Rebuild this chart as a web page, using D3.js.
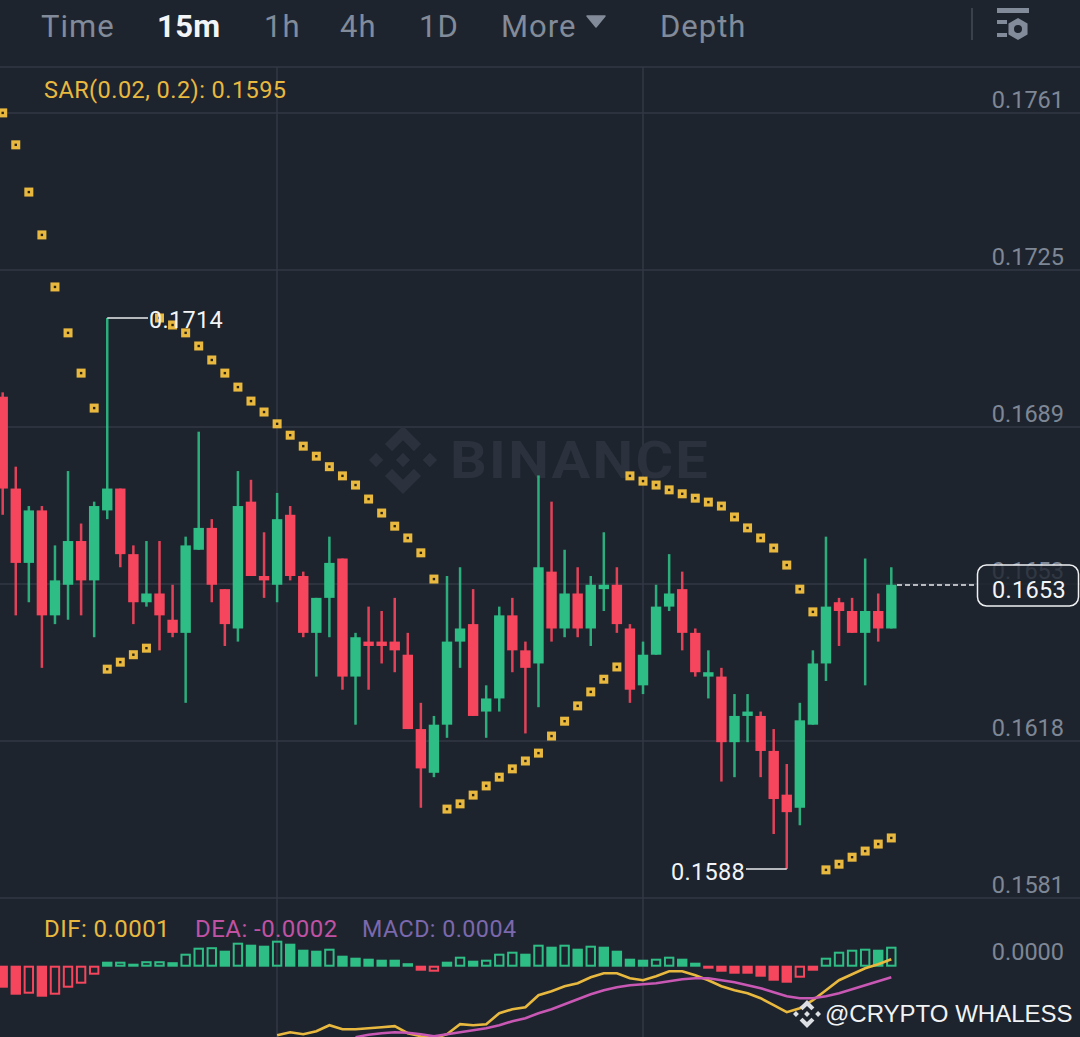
<!DOCTYPE html>
<html>
<head>
<meta charset="utf-8">
<script src="https://cdn.jsdelivr.net/npm/d3@7/dist/d3.min.js"></script>
<style>
  html, body { margin: 0; padding: 0; background: #1e242e; overflow: hidden; }
  svg { display: block; }
  text { font-family: Roboto, sans-serif; }
</style>
</head>
<body>
<div class="chart"></div>
<script>
// prices below are in units of 0.0001
const opens = [1696,1675,1658,1670,1646,1653,1663,1654,1670,1675,1660,1649,1651,1645,1642,1661,1666,1652,1643,1672,1655,1653,1669,1655,1642,1650,1659,1632,1640,1640,1640,1637,1620,1610,1621,1640,1644,1624,1627,1646,1638,1635,1656,1643,1651,1643,1652,1653,1643,1630,1637,1648,1652,1642,1632,1632,1617,1623,1623,1615,1605,1602,1621,1635,1649,1647,1642,1647,1643];
const closes = [1675,1658,1670,1646,1654,1663,1654,1671,1675,1660,1649,1651,1646,1642,1662,1666,1653,1644,1671,1655,1654,1668,1655,1642,1650,1658,1632,1641,1639,1639,1638,1620,1611,1621,1640,1643,1623,1627,1646,1638,1634,1657,1643,1651,1643,1653,1653,1644,1629,1637,1648,1651,1642,1633,1633,1617,1623,1624,1615,1604,1601,1622,1635,1648,1647,1642,1647,1643,1653];
const highs = [1697,1680,1671,1671,1662,1679,1667,1672,1714,1675,1662,1663,1663,1653,1664,1688,1668,1652,1679,1677,1665,1674,1671,1656,1650,1664,1659,1642,1648,1647,1650,1642,1626,1623,1655,1657,1652,1630,1648,1650,1640,1678,1672,1661,1657,1655,1665,1657,1644,1640,1653,1660,1656,1643,1638,1634,1628,1628,1624,1620,1612,1626,1638,1664,1650,1650,1659,1651,1657];
const lows = [1669,1646,1649,1634,1644,1645,1646,1641,1668,1657,1644,1648,1638,1641,1626,1661,1649,1639,1640,1655,1650,1649,1654,1641,1632,1641,1629,1621,1629,1635,1633,1620,1602,1609,1618,1634,1623,1618,1624,1633,1619,1625,1640,1641,1641,1639,1647,1642,1626,1628,1637,1647,1638,1632,1627,1608,1609,1617,1609,1596,1588,1598,1621,1631,1639,1642,1630,1640,1643];

const sar = [1760.9,1753.6,1742.8,1733,1721.1,1710.6,1701.4,1693.4,1633.7,1635.3,1637,1638.5,1714,1712.4,1710.6,1707.6,1704.4,1701.4,1698.2,1695,1692.5,1689.8,1687.2,1684.7,1682.4,1680,1677.9,1675.8,1672.6,1669.4,1666.4,1663.7,1660.3,1654.3,1601.7,1602.9,1604.9,1607,1609,1610.9,1612.7,1614.5,1618.4,1621.8,1625.3,1628.5,1631.4,1634.2,1677.9,1676.7,1675.8,1674.7,1673.8,1672.8,1671.9,1671,1668.5,1666,1663.7,1661.4,1657.5,1652,1646.8,1587.8,1589.1,1590.7,1592.1,1593.7,1595.1];

const priceTicks = [1761,1725.1,1689.2,1653.3,1617.4,1581.5];
const priceLabels = ["0.1761","0.1725","0.1689","0.1653","0.1618","0.1581"];

// macd values in units of 0.00001
const macd = [-42,-56,-54,-60,-56,-42,-34,-16,10,10,6,11,11,9,26,38,39,32,48,44,42,52,46,34,32,36,22,18,16,14,14,7,-8,-10,10,20,12,14,26,30,26,44,40,44,36,42,40,32,16,14,16,20,16,8,-4,-10,-14,-14,-20,-28,-32,-22,-8,18,30,34,36,34,40];
const macdHollow = [2,4,5,6,7,9,11,12,14,15,16,18,21,25,33,35,37,38,39,41,43,45,50,51,61,63,64,65,66,68];
const difStart = 21;
const dif = [-137,-131,-135,-129,-117,-125,-125,-123,-121,-119,-133,-139,-143,-135,-115,-117,-115,-93,-85,-81,-57,-49,-39,-33,-21,-13,-13,-23,-27,-19,-9,-9,-17,-27,-39,-47,-53,-63,-77,-91,-83,-67,-47,-27,-15,-3,5,15];
const deaStart = 27;
const dea = [-141,-136,-133,-131,-132,-135,-139,-135,-131,-127,-123,-117,-109,-103,-93,-85,-75,-65,-55,-47,-41,-37,-35,-33,-29,-25,-23,-23,-27,-31,-37,-43,-51,-59,-63,-63,-59,-53,-45,-37,-29,-21];

const tabs = ["Time","15m","1h","4h","1D","More","Depth"];
const tabX = [41,157,264,340,419,501,660];

const width = 1080, height = 1037;
const green = "#2ebd85", red = "#f6465d", yellow = "#e9b93f", bg = "#1e242e";
const gridColor = "#323945", mutedText = "#828b99", axisText = "#7e8795";

const svg = d3.select(".chart").append("svg")
    .attr("width", width)
    .attr("height", height)
    .style("background", bg);

const x = d3.scaleLinear().domain([0, 68]).range([2.7, 891.3]);
const y = d3.scaleLinear().domain([1714, 1588]).range([318, 869]);
const yMacd = d3.scaleLinear().domain([0, 40]).range([966.7, 946.7]);

// grid
svg.append("line").attr("x1", 0).attr("x2", width).attr("y1", 67).attr("y2", 67)
    .attr("stroke", gridColor).attr("stroke-width", 1.5);
svg.selectAll("line.v").data([277, 643]).enter().append("line")
    .attr("class", "v")
    .attr("x1", d => d).attr("x2", d => d)
    .attr("y1", 67).attr("y2", height)
    .attr("stroke", gridColor).attr("stroke-width", 1.5);

const priceAxis = svg.append("g")
    .attr("transform", `translate(${width},0)`)
    .call(d3.axisLeft(y).tickValues(priceTicks).tickSize(width)
        .tickFormat((d, i) => priceLabels[i]));
priceAxis.select(".domain").remove();
priceAxis.selectAll("line").attr("stroke", gridColor).attr("stroke-width", 1.5);
priceAxis.selectAll("text")
    .attr("x", -16).attr("dy", -5)
    .attr("text-anchor", "end")
    .attr("fill", axisText)
    .style("font-size", "23.5px")
    .style("font-family", "Roboto, sans-serif");

// binance logo, unit radius
function logo(g, cx, cy, r, color) {
    const c = [[0,-1],[0.53,-0.47],[0.32,-0.26],[0,-0.58],[-0.32,-0.26],[-0.53,-0.47]];
    const diamond = (dx) => [[dx,-0.21],[dx+0.21,0],[dx,0.21],[dx-0.21,0]];
    const shapes = [c, c.map(p => [p[0], -p[1]]), diamond(0), diamond(-0.79), diamond(0.79)];
    g.selectAll(null).data(shapes).enter().append("polygon")
        .attr("points", d => d.map(p => [cx + p[0] * r, cy + p[1] * r].join(",")).join(" "))
        .attr("fill", color);
}

// watermark
logo(svg.append("g"), 403, 460, 34, "#2c323d");
svg.append("text").attr("x", 450).attr("y", 478)
    .attr("fill", "#2c323d")
    .attr("textLength", 260).attr("lengthAdjust", "spacingAndGlyphs")
    .style("font-size", "51px").style("font-weight", 700).style("letter-spacing", "2px")
    .text("BINANCE");

// header
svg.selectAll("text.tab").data(tabs).enter().append("text")
    .attr("class", "tab")
    .attr("x", (d, i) => tabX[i])
    .attr("y", 37)
    .attr("fill", d => d === "15m" ? "#f2f4f7" : mutedText)
    .style("font-size", "31px")
    .style("font-weight", d => d === "15m" ? 700 : 400)
    .style("letter-spacing", d => d === "15m" ? "0.4px" : "1px")
    .text(d => d);
svg.append("path").attr("d", "M587,16L605,16L596,27Z").attr("fill", mutedText)
    .attr("stroke", mutedText).attr("stroke-width", 1.5).attr("stroke-linejoin", "round");
svg.append("rect").attr("x", 971).attr("y", 8).attr("width", 2).attr("height", 32).attr("fill", "#3a414c");

const icon = svg.append("g").attr("fill", mutedText);
icon.append("rect").attr("x", 997).attr("y", 8).attr("width", 32).attr("height", 5);
icon.append("rect").attr("x", 997).attr("y", 20).attr("width", 10).attr("height", 4);
icon.append("rect").attr("x", 997).attr("y", 33).attr("width", 10).attr("height", 4);
icon.append("path").attr("fill-rule", "evenodd")
    .attr("d", d3.range(6).map(i => {
        const a = Math.PI / 3 * i - Math.PI / 2;
        return (i ? "L" : "M") + (1018 + 11 * Math.cos(a)) + "," + (29 + 11 * Math.sin(a));
    }).join("") + "Z M1022,29a4,4 0 1,0 -8,0a4,4 0 1,0 8,0Z");

// legends
function legend(px, py, color, str, size) {
    svg.append("text").attr("x", px).attr("y", py).attr("fill", color)
        .style("font-size", size + "px").style("letter-spacing", "0.45px").text(str);
}
legend(44, 98, yellow, "SAR(0.02, 0.2): 0.1595", 23.5);
legend(44, 937, yellow, "DIF: 0.0001", 24);
legend(195, 937, "#c052a4", "DEA: -0.0002", 24);
legend(362, 937, "#7b68ad", "MACD: 0.0004", 23.3);

// candles
const candles = opens.map((o, i) => ({ i, o, c: closes[i], h: highs[i], l: lows[i], up: closes[i] >= o }));

svg.append("g").selectAll("rect").data(candles).enter().append("rect")
    .attr("x", d => x(d.i) - 1.25)
    .attr("width", 2.5)
    .attr("y", d => y(d.h))
    .attr("height", d => y(d.l) - y(d.h))
    .attr("fill", d => d.up ? green : red)
    .attr("opacity", 0.9);

svg.append("g").selectAll("rect").data(candles).enter().append("rect")
    .attr("x", d => x(d.i) - 5.2)
    .attr("width", 10.4)
    .attr("y", d => y(Math.max(d.o, d.c)))
    .attr("height", d => Math.max(1.5, Math.abs(y(d.o) - y(d.c))))
    .attr("fill", d => d.up ? green : red);

// SAR dots
const sarG = svg.append("g").selectAll("g").data(sar).enter().append("g")
    .attr("transform", (d, i) => `translate(${x(i)},${y(d)})`);
sarG.append("rect").attr("x", -4.5).attr("y", -4.5).attr("width", 9).attr("height", 9)
    .attr("fill", yellow);
sarG.append("rect").attr("x", -1.2).attr("y", -1.2).attr("width", 2.4).attr("height", 2.4)
    .attr("fill", "#2a2418");

// high / low labels
svg.append("path").attr("d", `M${x(8)},${y(1714)}H148`).attr("stroke", "#e8eaed").attr("stroke-width", 1.5).attr("fill", "none");
svg.append("text").attr("x", 149).attr("y", y(1714) + 10).attr("fill", "#f2f4f7")
    .style("font-size", "23.5px").style("letter-spacing", "0.3px").text("0.1714");
svg.append("path").attr("d", `M${x(60)},${y(1588)}H746`).attr("stroke", "#e8eaed").attr("stroke-width", 1.5).attr("fill", "none");
svg.append("text").attr("x", 671).attr("y", y(1588) + 11).attr("fill", "#f2f4f7")
    .style("font-size", "23.5px").style("letter-spacing", "0.3px").text("0.1588");

// last price
svg.append("line").attr("x1", 897).attr("x2", 977).attr("y1", 585).attr("y2", 585)
    .attr("stroke", "#e8eaed").attr("stroke-width", 1.3).attr("stroke-dasharray", "5,3");
svg.append("rect").attr("x", 977.5).attr("y", 565).attr("width", 101).attr("height", 41).attr("rx", 9)
    .attr("fill", bg).attr("fill-opacity", 0.8).attr("stroke", "#eef0f2").attr("stroke-width", 1.5);
svg.append("text").attr("x", 992).attr("y", 598).attr("fill", "#f2f4f7")
    .style("font-size", "23.5px").style("letter-spacing", "0.3px").text("0.1653");

// macd bars
svg.append("g").selectAll("rect").data(macd).enter().append("rect")
    .each(function (d, i) {
        const hollow = macdHollow.includes(i);
        const color = d >= 0 ? green : red;
        const top = d >= 0 ? yMacd(d) : yMacd(0) - 1;
        const h = Math.abs(yMacd(d) - yMacd(0)) + (d >= 0 ? 0 : 1);
        d3.select(this)
            .attr("x", x(i) - (hollow ? 4.2 : 5.2))
            .attr("width", hollow ? 8.4 : 10.4)
            .attr("y", hollow ? top + 1 : top)
            .attr("height", hollow ? Math.max(h - 2, 1) : h)
            .attr("fill", hollow ? "none" : color)
            .attr("stroke", hollow ? color : "none")
            .attr("stroke-width", 2);
    });

svg.append("text").attr("x", width - 16).attr("y", 960).attr("text-anchor", "end")
    .attr("fill", axisText).style("font-size", "23.5px").text("0.0000");

const line = d3.line().x(d => x(d[0])).y(d => yMacd(d[1]));
svg.append("path")
    .attr("d", line(dif.map((v, i) => [difStart + i, v])))
    .attr("fill", "none").attr("stroke", yellow).attr("stroke-width", 2.6);
svg.append("path")
    .attr("d", line(dea.map((v, i) => [deaStart + i, v])))
    .attr("fill", "none").attr("stroke", "#c858b4").attr("stroke-width", 2.6);

// corner watermark
logo(svg.append("g"), 807, 1014, 14, "#dcdfe3");
svg.append("text").attr("x", 825).attr("y", 1022).attr("fill", "#f1f2f4")
    .style("font-family", "Liberation Sans, sans-serif").style("font-size", "24px").text("@CRYPTO WHALESS");
</script>
</body>
</html>
